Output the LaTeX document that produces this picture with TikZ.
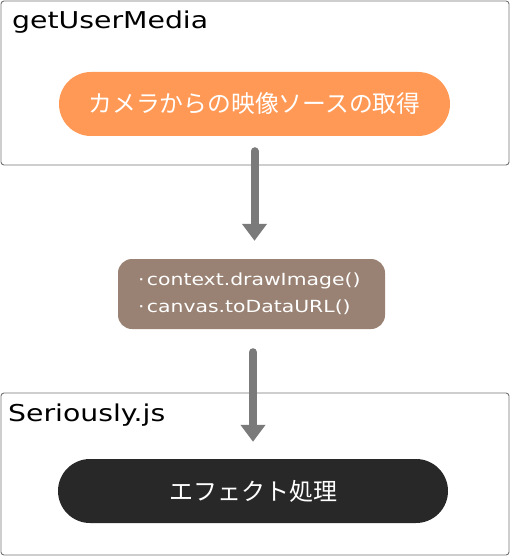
\documentclass[tikz,border=0pt]{standalone}
\usepackage{fontspec}
\setmainfont{DejaVu Sans}[FakeStretch=1.22]
\newfontfamily\jp{Noto Sans CJK JP}
\usepackage{tikz}
\usetikzlibrary{arrows.meta}
\definecolor{cameraorange}{RGB}{255,153,85}
\definecolor{canvasbrown}{RGB}{153,130,115}
\definecolor{effectblack}{RGB}{40,40,40}
\definecolor{flowgray}{RGB}{122,122,122}
\definecolor{framegray}{RGB}{115,115,115}
\tikzset{
    frame/.style={draw=framegray, line width=0.9pt, rounded corners=3pt,
    	minimum width=508pt, inner sep=0pt}
}
\tikzset{
    pill/.style={rounded corners=32pt, minimum height=64pt, inner sep=0pt,
    	text=white, font=\jp\fontsize{23.8}{28}\selectfont}
}
\tikzset{
    title/.style={anchor=base west, inner sep=0pt, font=\fontsize{23.2}{27}\selectfont}
}
\tikzset{
    flow/.style={draw=flowgray, line width=8pt, line cap=round,
    	-{Triangle[width=24pt,length=17pt]}}
}

\begin{document}
\begin{tikzpicture}
  \useasboundingbox (0pt, 0pt) rectangle (510pt, -556pt);

  \node (media) [frame, minimum height=164pt] at (255pt, -83pt) {};
  \node (seriously) [frame, minimum height=162pt] at (255pt, -474pt) {};
  \node (mediatitle) [title] at (12pt, -29pt) {getUserMedia};
  \node (seriouslytitle) [title] at (8pt, -421pt) {Seriously.js};

  \node (camera) [pill, fill=cameraorange, minimum width=391pt] at (254.5pt, -104pt)
    {カメラからの映像ソースの取得};
  \node (convert) [fill=canvasbrown, rounded corners=14pt, minimum width=267pt,
    minimum height=70pt, inner sep=0pt, text width=227pt, text=white, align=left,
    font=\fontsize{16.7}{27}\selectfont] at (251.5pt, -294pt)
    {·\kern2.5pt context.drawImage()\\·\kern2.5pt canvas.toDataURL()};
  \node (effect) [pill, fill=effectblack, minimum width=390pt,
    font=\jp\fontsize{24}{28}\selectfont] at (253pt, -491pt) {エフェクト処理};

  \draw [flow] ([yshift=-15pt]camera.south) -- ([yshift=18pt]camera.south |- convert.north);
  \draw [flow] ([yshift=-23pt]effect.north |- convert.south) -- ([yshift=17pt]effect.north);
\end{tikzpicture}
\end{document}
